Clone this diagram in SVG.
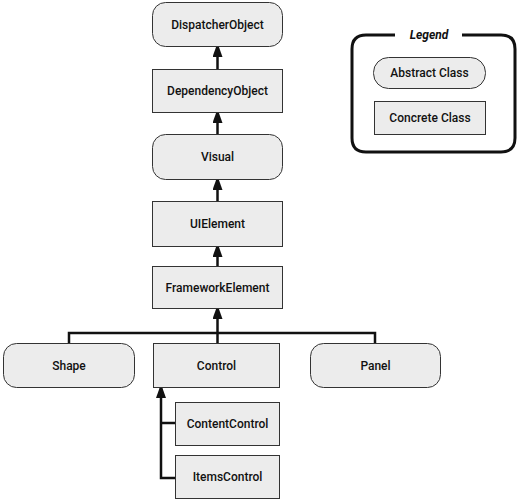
<svg xmlns="http://www.w3.org/2000/svg" width="521" height="504" viewBox="0 0 521 504">
<defs>
<marker id="ah" viewBox="0 0 10 14" refX="10" refY="5" markerWidth="10" markerHeight="14" markerUnits="userSpaceOnUse" orient="auto">
<path d="M0,0 L14,5 L0,10 Z" fill="#111"/>
</marker>
<style>
.box{fill:#ececec;stroke:#333;stroke-width:1}
.lbl{font-family:Roboto,"Liberation Sans",sans-serif;font-size:12px;font-weight:500;fill:#111;text-anchor:middle}
.con{stroke:#111;stroke-width:2.5;fill:none}
</style>
</defs>
<rect width="521" height="504" fill="#fff"/>
<g id="legend">
<path d="M395,35 L366,35 Q352,35 352,49 L352,138 Q352,152 366,152 L501,152 Q515,152 515,138 L515,49 Q515,35 501,35 L462,35" fill="none" stroke="#111" stroke-width="3"/>
<text x="429" y="39" class="lbl" style="font-style:italic;font-weight:bold">Legend</text>
<rect x="373.5" y="57.5" width="112" height="31" rx="15" class="box"/>
<text x="429.5" y="77" class="lbl">Abstract Class</text>
<rect x="374.5" y="101.5" width="111" height="33" class="box"/>
<text x="430" y="122" class="lbl">Concrete Class</text>
</g>
<g id="DispatcherObject">
<rect x="152.5" y="2.5" width="130" height="44" rx="13" class="box"/>
<text x="217.5" y="29" class="lbl">DispatcherObject</text>
</g>
<g id="DependencyObject">
<rect x="152.5" y="69.5" width="130" height="43" class="box"/>
<text x="217.5" y="95" class="lbl">DependencyObject</text>
</g>
<g id="Visual">
<rect x="152.5" y="134.5" width="130" height="45" rx="13" class="box"/>
<text x="217.5" y="161" class="lbl">Visual</text>
</g>
<g id="UIElement">
<rect x="152.5" y="201.5" width="130" height="45" class="box"/>
<text x="217.5" y="228" class="lbl">UIElement</text>
</g>
<g id="FrameworkElement">
<rect x="152.5" y="266.5" width="130" height="42" class="box"/>
<text x="217.5" y="292" class="lbl">FrameworkElement</text>
</g>
<g id="Shape">
<rect x="3.5" y="343.5" width="131" height="44" rx="13" class="box"/>
<text x="69" y="370" class="lbl">Shape</text>
</g>
<g id="Control">
<rect x="153.5" y="343.5" width="126" height="44" class="box"/>
<text x="216.5" y="370" class="lbl">Control</text>
</g>
<g id="Panel">
<rect x="310.5" y="343.5" width="130" height="44" rx="13" class="box"/>
<text x="375.5" y="370" class="lbl">Panel</text>
</g>
<g id="ContentControl">
<rect x="175.5" y="402.5" width="104" height="43" class="box"/>
<text x="227.5" y="428" class="lbl">ContentControl</text>
</g>
<g id="ItemsControl">
<rect x="175.5" y="455.5" width="104" height="43" class="box"/>
<text x="227.5" y="481" class="lbl">ItemsControl</text>
</g>
<g id="connectors">
<line x1="217.5" y1="69" x2="217.5" y2="47" class="con" marker-end="url(#ah)"/>
<line x1="217.5" y1="134" x2="217.5" y2="113" class="con" marker-end="url(#ah)"/>
<line x1="217.5" y1="201" x2="217.5" y2="180" class="con" marker-end="url(#ah)"/>
<line x1="217.5" y1="266" x2="217.5" y2="247" class="con" marker-end="url(#ah)"/>
<line x1="217.5" y1="343" x2="217.5" y2="309" class="con" marker-end="url(#ah)"/>
<path d="M69,343 L69,333 L375,333 L375,343" class="con"/>
<path d="M175,478 L161,478 L161,388" class="con" marker-end="url(#ah)"/>
<line x1="161" y1="423" x2="175" y2="423" class="con"/>
</g>
</svg>
